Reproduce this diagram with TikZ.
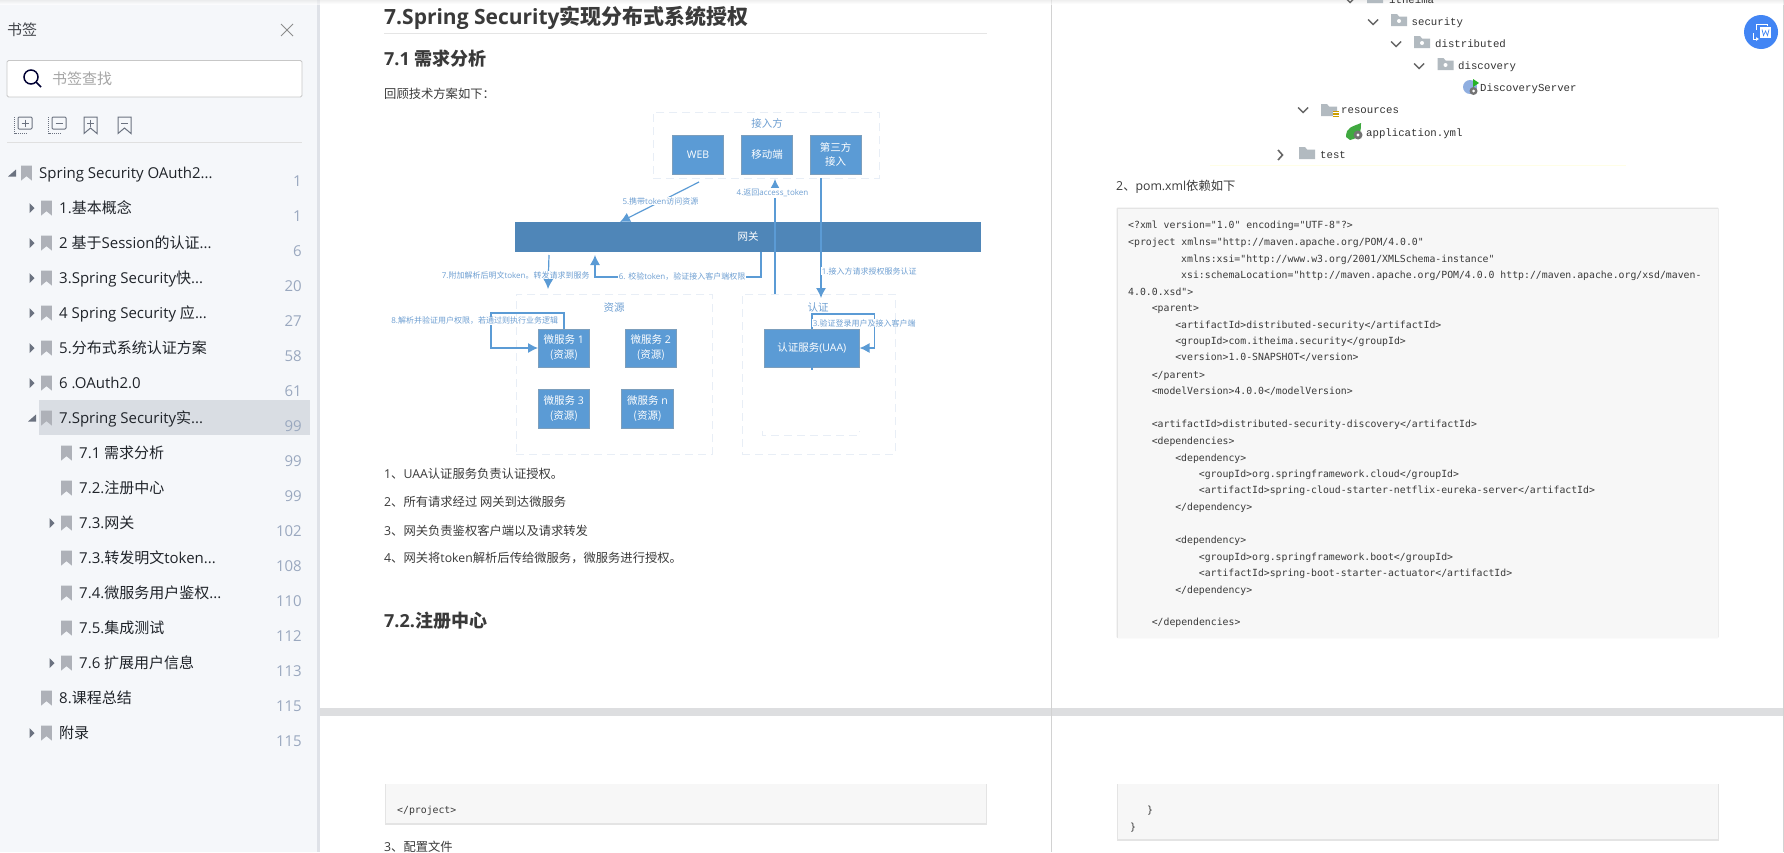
\documentclass[tikz,border=0pt]{standalone}
\usepackage{fontspec}
\setmainfont{Noto Sans CJK SC}
\newfontfamily\latf{Open Sans}
\newfontfamily\codef{DejaVu Sans Mono}
\newfontfamily\treef{Liberation Mono}
\usetikzlibrary{arrows.meta}
\definecolor{sidebg}{HTML}{F5F7FA}
\definecolor{sideline}{HTML}{DFE2E8}
\definecolor{sidehi}{HTML}{D9DDE3}
\definecolor{sidetxt}{HTML}{20242A}
\definecolor{pagenum}{HTML}{9AA8BF}
\definecolor{iconc}{HTML}{6B7280}
\definecolor{bmk}{HTML}{AEB1B8}
\definecolor{gapc}{HTML}{DDDEE0}
\definecolor{pline}{HTML}{D2D2D2}
\definecolor{mtxt}{HTML}{3A3A3A}
\definecolor{boxb}{HTML}{5B9BD5}
\definecolor{gateb}{HTML}{4F86B8}
\definecolor{flowc}{HTML}{5B9BD5}
\definecolor{labc}{HTML}{6E9FD2}
\definecolor{dashc}{HTML}{E8EEF6}
\definecolor{codebg}{HTML}{F7F7F7}
\definecolor{codeln}{HTML}{E4E4E4}
\definecolor{foldc}{HTML}{B2BAC0}
\definecolor{floatb}{HTML}{4285F4}
\tikzset{
  svc/.style={draw=black!25!boxb!70!white,line width=.8pt,fill=boxb,text=white,align=center,inner sep=0pt,outer sep=0pt,font=\fontsize{10.5}{15}\selectfont},
  dbox/.style={draw=dashc,line width=1pt,dash pattern=on 8pt off 5pt,inner sep=0pt,outer sep=0pt},
  flow/.style={draw=flowc,line width=1.2pt,-{Latex[length=10pt,width=10pt]}},
  flowp/.style={draw=flowc,line width=1.2pt},
  lab/.style={fill=white,text=labc,inner sep=.6pt,font=\fontsize{8}{10}\selectfont},
  codetxt/.style={anchor=base west,inner sep=0pt,text=mtxt,font=\fontsize{9.82}{12}\codef},
  treetxt/.style={anchor=base west,inner sep=0pt,text=black!80,font=\fontsize{10.7}{12}\treef},
  glyphline/.style={draw=iconc,line width=1pt},
}
\newcommand\lat[1]{{\latf #1}}
\newcommand\tx[6]{\node[anchor=base west,inner sep=0pt,text=#5,font=\fontsize{#4}{#4}\selectfont] (#1) at ({#2},{#3+0.36*#4}) {#6};}
\newcommand\bmark[2]{\fill[bmk] ({#1-5.3},{#2-7.5}) -- ({#1+5.3},{#2-7.5}) -- ({#1+5.3},{#2+7.5}) -- ({#1},{#2+3.2}) -- ({#1-5.3},{#2+7.5}) -- cycle;}
\newcommand\arrR[2]{\fill[iconc] ({#1-2.5},{#2-5}) -- ({#1+2.5},{#2}) -- ({#1-2.5},{#2+5}) -- cycle;}
\newcommand\arrD[2]{\fill[iconc] ({#1+4},{#2-3.5}) -- ({#1+4},{#2+3.5}) -- ({#1-4},{#2+3.5}) -- cycle;}
% id, level, y, text, page
\newcommand\siderow[5]{%
  \bmark{26.5+20*#2}{#3}
  \tx{#1t}{39+20*#2}{#3}{15}{sidetxt}{#4}
  \node[anchor=base east,inner sep=0pt,text=pagenum,font=\fontsize{15}{15}\latf] (#1p) at (302,{#3+13.5}) {#5};}
\newcounter{cl}
\newcommand\cln[3]{\stepcounter{cl}\node[codetxt] (code\arabic{cl}) at ({1128+#1*5.89},{#2+3.5}) {#3};}
\newcommand\fold[2]{\fill[foldc] ({#1-8},{#2-6}) -- ({#1-2},{#2-6}) -- ({#1},{#2-3.5}) -- ({#1+8},{#2-3.5}) -- ({#1+8},{#2+6}) -- ({#1-8},{#2+6}) -- cycle;}
\newcommand\chevD[2]{\draw[draw=black!60,line width=1.4pt] ({#1-5},{#2-2.5}) -- ({#1},{#2+2.5}) -- ({#1+5},{#2-2.5});}
\newcommand\treet[4]{\node[treetxt] (#1) at (#2,{#3+3}) {#4};}
\begin{document}
\begin{tikzpicture}[x=1pt,y=-1pt]
\useasboundingbox (0,0) rectangle (1784,852);
\fill[white] (0,0) rectangle (1784,852);
% --- pages
\fill[gapc] (320,708) rectangle (1784,716);
\draw[pline,line width=.8pt] (1051,0) -- (1051,852);
\draw[pline,line width=.8pt] (1783.5,0) -- (1783.5,852);
% --- sidebar
\fill[sidebg] (0,0) rectangle (317,852);
\fill[sideline] (317,0) rectangle (320,852);
% --- top shadow
\shade[top color=black!10,bottom color=white,opacity=.6] (0,0) rectangle (1784,4);
\tx{sidetitle}{7}{30.5}{15}{sidetxt!85}{书签}
\draw[draw=black!45,line width=1pt] (281,24) -- (293,36) (293,24) -- (281,36);
\node[draw=black!22,fill=white,line width=.8pt,rounded corners=1.5pt,minimum width=295pt,minimum height=36.5pt,inner sep=0pt,outer sep=0pt] (search) at (154.5,78.7) {};
\draw[draw=black!80!blue,line width=1.5pt] (31,77) circle[radius=7pt] (36,82) -- (41,87);
\tx{searchph}{52}{79}{15}{black!35}{书签查找}
% toolbar
\draw[glyphline,rounded corners=1pt] (18,117) rectangle (32,129);
\draw[glyphline,densely dotted] (14.5,117) -- (14.5,133.5) -- (27,133.5);
\draw[glyphline] (21.5,123) -- (28.5,123) (25,119.5) -- (25,126.5);
\draw[glyphline,rounded corners=1pt] (52,117) rectangle (66,129);
\draw[glyphline,densely dotted] (48.5,117) -- (48.5,133.5) -- (61,133.5);
\draw[glyphline] (55.5,123) -- (62.5,123);
\draw[glyphline] (84,117) -- (97,117) -- (97,133.5) -- (90.5,128) -- (84,133.5) -- cycle;
\draw[glyphline] (87,123) -- (94,123) (90.5,119.5) -- (90.5,126.5);
\draw[glyphline] (118,117) -- (131,117) -- (131,133.5) -- (124.5,128) -- (118,133.5) -- cycle;
\draw[glyphline] (121,123) -- (128,123);
\draw[draw=black!12,line width=.8pt] (7,142.5) -- (302,142.5);
% rows
\fill[sidehi] (39,400) rectangle (310,435);
\arrD{12}{173}
\siderow{rowa}{0}{173}{\lat{Spring Security OAuth2...}}{1}
\arrR{32}{208}
\siderow{rowb}{1}{208}{\lat{1.}基本概念}{1}
\arrR{32}{243}
\siderow{rowc}{1}{243}{\lat{2 }基于\lat{Session}的认证\lat{...}}{6}
\arrR{32}{278}
\siderow{rowd}{1}{278}{\lat{3.Spring Security}快\lat{...}}{20}
\arrR{32}{313}
\siderow{rowe}{1}{313}{\lat{4 Spring Security }应\lat{...}}{27}
\arrR{32}{348}
\siderow{rowf}{1}{348}{\lat{5.}分布式系统认证方案}{58}
\arrR{32}{383}
\siderow{rowg}{1}{383}{\lat{6 .OAuth2.0}}{61}
\arrD{32}{418}
\siderow{rowh}{1}{418}{\lat{7.Spring Security}实\lat{...}}{99}
\siderow{rowi}{2}{453}{\lat{7.1 }需求分析}{99}
\siderow{rowj}{2}{488}{\lat{7.2.}注册中心}{99}
\arrR{52}{523}
\siderow{rowk}{2}{523}{\lat{7.3.}网关}{102}
\siderow{rowl}{2}{558}{\lat{7.3.}转发明文\lat{token...}}{108}
\siderow{rowm}{2}{593}{\lat{7.4.}微服务用户鉴权\lat{...}}{110}
\siderow{rown}{2}{628}{\lat{7.5.}集成测试}{112}
\arrR{52}{663}
\siderow{rowo}{2}{663}{\lat{7.6 }扩展用户信息}{113}
\siderow{rowp}{1}{698}{\lat{8.}课程总结}{115}
\arrR{32}{733}
\siderow{rowq}{1}{733}{附录}{115}
% --- left page text
\tx{h1}{384}{17}{21}{mtxt}{\bfseries\lat{7.Spring Security}实现分布式系统授权}
\draw[draw=black!10,line width=.8pt] (384,33.5) -- (987,33.5);
\tx{h2}{384}{59}{18}{mtxt}{\bfseries\lat{7.1 }需求分析}
\tx{p0}{384}{94}{12.3}{mtxt}{回顾技术方案如下：}
\tx{p1}{384}{474}{12.3}{mtxt}{\lat{1}、\lat{UAA}认证服务负责认证授权。}
\tx{p2}{384}{502}{12.3}{mtxt}{\lat{2}、所有请求经过 网关到达微服务}
\tx{p3}{384}{531}{12.3}{mtxt}{\lat{3}、网关负责鉴权客户端以及请求转发}
\tx{p4}{384}{558}{12.3}{mtxt}{\lat{4}、网关将\lat{token}解析后传给微服务，微服务进行授权。}
\tx{h3}{384}{621}{18}{mtxt}{\bfseries\lat{7.2.}注册中心}
% --- diagram groups
\node[dbox,minimum width=226pt,minimum height=66pt] (gaccess) at (766,145) {};
\node[dbox,minimum width=196pt,minimum height=160pt] (gres) at (614,374) {};
\node[dbox,minimum width=153pt,minimum height=160pt] (gauth) at (818.5,374) {};
\draw[dbox] (762,431) -- (762,435) -- (859,435) -- (859,431);
\node[inner sep=0pt,text=labc,font=\fontsize{10.5}{12}\selectfont] (taccess) at (767,123) {接入方};
\node[inner sep=0pt,text=labc,font=\fontsize{10.5}{12}\selectfont] (tres) at (614,308) {资源};
\node[inner sep=0pt,text=labc,font=\fontsize{10.5}{12}\selectfont] (tauth) at (818,308) {认证};
% boxes
\node[svc,minimum width=51.5pt,minimum height=39pt] (web) at (698,154.5) {\lat{WEB}};
\node[svc,minimum width=51.5pt,minimum height=39pt] (mobile) at (767,154.5) {移动端};
\node[svc,minimum width=51.5pt,minimum height=39pt,font=\fontsize{10.5}{14}\selectfont] (third) at (835.7,154.5) {第三方\\接入};
\node[fill=gateb,inner sep=0pt,outer sep=0pt,minimum width=466pt,minimum height=30pt,text=white,font=\fontsize{10.5}{12}\selectfont] (gate) at (748,237) {网关};
\node[svc,minimum width=51.5pt,minimum height=38pt] (ms1) at (563.8,348) {微服务\lat{ 1}\\(资源)};
\node[svc,minimum width=51.5pt,minimum height=38pt] (ms2) at (650.8,348) {微服务\lat{ 2}\\(资源)};
\node[svc,minimum width=51.5pt,minimum height=39pt] (ms3) at (563.8,408.5) {微服务\lat{ 3}\\(资源)};
\node[svc,minimum width=51.5pt,minimum height=39pt] (msn) at (647.5,408.5) {微服务\lat{ n}\\(资源)};
\node[svc,minimum width=95.5pt,minimum height=38pt] (uaa) at (811.8,348) {认证服务\lat{(UAA)}};
% connectors
\coordinate (c5a) at (699,182);
\coordinate (c5b) at (620,222);
\draw[flow] (c5a) -- (c5b);
\coordinate (c4a) at (775,294);
\coordinate (c4b) at (775,179);
\draw[flow] (c4a) -- (c4b);
\coordinate (c1a) at (821,178);
\coordinate (c1b) at (821,298);
\draw[flow] (c1a) -- (c1b);
\coordinate (c7a) at (549,255);
\coordinate (c7b) at (548,289);
\draw[flow] (c7a) -- (c7b);
\coordinate (c6a) at (761,252);
\coordinate (c6b) at (595,255);
\draw[flow] (c6a) -- (761,277) -- (595,277) -- (c6b);
\coordinate (c8a) at (564,329);
\draw[flow] (c8a) -- (564,313) -- (491,313) -- (491,348) -- (ms1.west);
\coordinate (c3a) at (812,329);
\draw[flow] (c3a) -- (812,314) -- (874.5,314) -- (874.5,348) -- (uaa.east);
\coordinate (c3b) at (812,367);
\coordinate (c3c) at (812,370);
\draw[flowp] (c3b) -- (c3c);
% labels
\node[lab,text width=70pt,align=center] (l5) at (657.5,201) {\lat{5.}携带\lat{token}访问资源};
\node[lab] (l4) at (772.5,193) {\lat{4.}返回\lat{access\_token}};
\node[lab,anchor=west] (l1) at (821,271) {\lat{1.}接入方请求授权服务认证};
\node[lab,anchor=west] (l7) at (441,275) {\lat{7.}附加解析后明文\lat{token}。转发请求到服务};
\node[lab,anchor=west] (l6) at (618,277) {\lat{6. }校验\lat{token}，验证接入客户端权限};
\node[lab,anchor=west] (l8) at (390.5,321) {\lat{8.}解析并验证用户权限，若通过则执行业务逻辑};
\node[lab,anchor=west] (l3) at (812,323) {\lat{3.}验证登录用户及接入客户端};
% --- right page tree
\chevD{1350}{0}\fold{1375}{-3}
\treet{t0}{1389}{0}{itheima}
\chevD{1373}{22}\fold{1399}{20}\fill[white] (1399,21) circle[radius=2pt];
\treet{t1}{1411.5}{22}{security}
\chevD{1396}{44}\fold{1422}{42}\fill[white] (1422,43) circle[radius=2pt];
\treet{t2}{1435}{44}{distributed}
\chevD{1419}{66}\fold{1445.5}{64}\fill[white] (1445.5,65) circle[radius=2pt];
\treet{t3}{1458}{66}{discovery}
\fill[cyan!50!blue!45] (1470,87) circle[radius=7pt];
\fill[green!65!black!85] (1473,79) -- (1479,83) -- (1473,87) -- cycle;
\fill[black!55] (1473.5,91) circle[radius=4pt];
\fill[white] (1473.5,91) circle[radius=1.5pt];
\treet{t4}{1480}{88}{DiscoveryServer}
\chevD{1303}{110}\fold{1329}{110}
\fill[orange!45!yellow!80!black] (1333,111) rectangle (1339,118);
\foreach \yy in {112.5,115,117.2}{\draw[white,line width=.5pt] (1333,\yy) -- (1339,\yy);}
\treet{t5}{1341}{110}{resources}
\fill[green!55!black!75] (1346,137) .. controls (1346,127) and (1352,127) .. (1361,123) .. controls (1361,132) and (1360,138) .. (1350,140) -- cycle;
\fill[black!55] (1358,135) circle[radius=4.5pt];
\fill[white] (1358,135) circle[radius=1.7pt];
\treet{t6}{1366}{133}{application.yml}
\draw[draw=black!60,line width=1.6pt] (1278,150) -- (1282.5,155) -- (1278,160);
\fold{1307}{153}
\treet{t7}{1320}{155}{test}
\draw[draw=yellow!10,line width=1pt] (1210,165) -- (1626,165);
\tx{q0}{1116}{186}{12.3}{mtxt}{\lat{2}、\lat{pom.xml}依赖如下}
% --- code box
\fill[codeln,rounded corners=1pt] (1116.5,207.5) rectangle (1718.5,638);
\fill[codebg] (1117.5,208.5) rectangle (1717.5,638);
\cln{0}{225}{<?xml version="1.0" encoding="UTF-8"?>}
\cln{0}{242}{<project xmlns="http://maven.apache.org/POM/4.0.0"}
\cln{9}{259}{xmlns:xsi="http://www.w3.org/2001/XMLSchema-instance"}
\cln{9}{275}{xsi:schemaLocation="http://maven.apache.org/POM/4.0.0 http://maven.apache.org/xsd/maven-}
\cln{0}{292}{4.0.0.xsd">}
\cln{4}{308}{<parent>}
\cln{8}{325}{<artifactId>distributed-security</artifactId>}
\cln{8}{341}{<groupId>com.itheima.security</groupId>}
\cln{8}{357}{<version>1.0-SNAPSHOT</version>}
\cln{4}{375}{</parent>}
\cln{4}{391}{<modelVersion>4.0.0</modelVersion>}
\cln{4}{424}{<artifactId>distributed-security-discovery</artifactId>}
\cln{4}{441}{<dependencies>}
\cln{8}{458}{<dependency>}
\cln{12}{474}{<groupId>org.springframework.cloud</groupId>}
\cln{12}{490}{<artifactId>spring-cloud-starter-netflix-eureka-server</artifactId>}
\cln{8}{507}{</dependency>}
\cln{8}{540}{<dependency>}
\cln{12}{557}{<groupId>org.springframework.boot</groupId>}
\cln{12}{573}{<artifactId>spring-boot-starter-actuator</artifactId>}
\cln{8}{590}{</dependency>}
\cln{4}{622}{</dependencies>}
% --- lower boxes
\fill[codeln] (384.5,784) rectangle (986.5,825);
\fill[codebg] (385.5,784) rectangle (985.5,823);
\fill[codeln] (1116.5,784) rectangle (1718.5,841);
\fill[codebg] (1117.5,784) rectangle (1717.5,839);
\node[codetxt] (endproj) at (397,813.5) {</project>};
\node[codetxt] (brace1) at (1147,813.5) {\}};
\node[codetxt] (brace2) at (1130,830.5) {\}};
\tx{q3}{384}{847}{12.3}{mtxt}{\lat{3}、配置文件}
% --- float button
\fill[floatb] (1761,32) circle[radius=17pt];
\fill[white] (1760,27) rectangle (1771,38);
\draw[white,line width=1pt] (1756,30) -- (1756,24.5) -- (1767,24.5) -- (1767,26);
\draw[white,line width=1pt,-{Latex[length=3pt,width=4pt]}] (1753,33) -- (1753,39) -- (1759,39);
\draw[floatb,line width=.7pt] (1762,29.5) -- (1763.5,35.5) -- (1765.5,31) -- (1767.5,35.5) -- (1769,29.5);
\end{tikzpicture}
\end{document}
